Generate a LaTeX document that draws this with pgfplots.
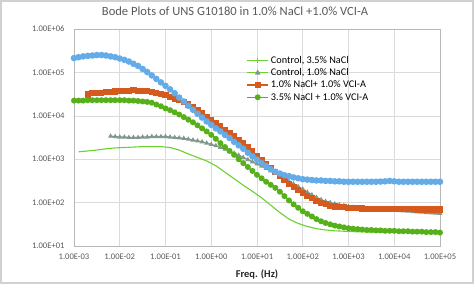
\documentclass[border=0pt]{standalone}
\usepackage{fontspec}
\setmainfont{Carlito}
\usepackage{pgfplots}
\pgfplotsset{compat=1.18}
\definecolor{cblue}{RGB}{100,172,232}
\definecolor{corange}{RGB}{214,90,30}
\definecolor{cgreen}{RGB}{86,176,26}
\definecolor{cctrl}{RGB}{105,210,45}
\definecolor{cgray}{RGB}{128,152,140}
\definecolor{ctxt}{RGB}{89,89,89}
\begin{document}
\begin{tikzpicture}[x=1bp,y=1bp]
\useasboundingbox (-74,-38) rectangle (400,246);
\draw[line width=1.5bp, black!18] (-73,-37) rectangle (399,245);
\begin{axis}[
  at={(0,0)}, anchor=south west, scale only axis,
  width=366bp, height=217bp,
  xmode=log, ymode=log,
  xmin=1e-3, xmax=1e5, ymin=10, ymax=1e6,
  xtick={1e-3,1e-2,1e-1,1,10,100,1000,1e4,1e5},
  xticklabels={1.00E-03,1.00E-02,1.00E-01,1.00E+00,1.00E+01,1.00E+02,1.00E+03,1.00E+04,1.00E+05},
  ytick={10,100,1000,1e4,1e5,1e6},
  yticklabels={1.00E+01,1.00E+02,1.00E+03,1.00E+04,1.00E+05,1.00E+06},
  xminorticks=false, yminorticks=false,
  major tick length=0pt,
  grid=major, major grid style={black!14, line width=0.6bp},
  axis line style={black!28, line width=0.7bp},
  tick label style={font=\fontsize{8.6}{9}\selectfont, text=ctxt},
  xticklabel style={yshift=-4.5bp},
  yticklabel style={xshift=-6bp},
  xlabel={\textbf{Freq. (Hz)}},
  xlabel style={at={(axis description cs:0.5,-0.13)}, anchor=center, font=\fontsize{10.5}{12}\selectfont, text=black!85},
  title={Bode Plots of UNS G10180 in 1.0\% NaCl +1.0\% VCI-A},
  title style={at={(axis description cs:0.44,1)}, anchor=center, yshift=12bp, font=\fontsize{12.6}{14}\selectfont, text=ctxt},
  legend style={at={(axis description cs:0.468,0.89)}, anchor=north west, draw=none, fill=none,
    font=\fontsize{10.3}{11}\selectfont, row sep=-0.3bp, inner sep=1bp},
  legend cell align=left,
]
% Control, 3.5% NaCl
\addplot[color=cctrl, line width=1.1bp, no markers,
  legend image code/.code={\draw[cctrl,line width=1.2bp] (0bp,0bp)--(21bp,0bp); \draw[cctrl,line width=0.8bp] (10.5bp,-2.5bp)--(10.5bp,2.5bp);}]
table {
1.259e-3 1479
1.995e-3 1549
3.162e-3 1622
5.012e-3 1738
7.943e-3 1820
1.259e-2 1862
1.995e-2 1905
3.162e-2 1950
5.012e-2 1950
7.943e-2 1950
1.259e-1 1862
1.995e-1 1622
3.162e-1 1318
5.012e-1 1096
7.943e-1 912
1.259 708
1.995 501
3.162 355
5.012 251
7.943 182
12.59 129
19.95 87.1
31.62 58.9
50.12 41.7
79.43 33.1
125.9 28.2
199.5 25.1
316.2 23.4
501.2 22.4
794.3 21.9
1259 21.4
1995 21.2
3162 21.0
5012 20.9
7943 20.8
12590 20.6
19950 20.5
31620 20.5
50120 20.4
1e5 20.4
};
\addlegendentry{Control, 3.5\% NaCl}
% Control, 1.0% NaCl
\addplot[color=cgray, line width=1.3bp, mark=triangle*, mark size=1.6bp,
  mark options={solid, fill=cgray, draw=cgray},
  legend image code/.code={\draw[cctrl,line width=1.2bp] (0bp,0bp)--(21bp,0bp); \fill[cgray] (8.7bp,-1.3bp)--(12.3bp,-1.3bp)--(10.5bp,1.9bp)--cycle;}]
table {
6.310e-3 3388
7.943e-3 3311
1.000e-2 3236
1.259e-2 3236
1.585e-2 3162
1.995e-2 3162
2.512e-2 3162
3.162e-2 3236
3.981e-2 3236
5.012e-2 3311
6.310e-2 3311
7.943e-2 3311
1.000e-1 3311
1.259e-1 3236
1.585e-1 3162
1.995e-1 3090
2.512e-1 3020
3.162e-1 2884
3.981e-1 2754
5.012e-1 2630
6.310e-1 2512
7.943e-1 2344
1 2188
1.259 2042
1.585 1862
1.995 1698
2.512 1549
3.162 1380
3.981 1230
5.012 1096
6.310 977
7.943 871
10 776
12.59 692
15.85 617
19.95 537
25.12 468
31.62 417
39.81 363
50.12 309
63.10 269
79.43 234
100 204
125.9 174
158.5 151
199.5 132
251.2 117
316.2 107
398.1 100
501.2 93.3
631.0 89.1
794.3 85.1
1000 81.3
1259 78.5
1585 75.9
1995 74.1
2512 72.4
3162 70.8
3981 69.2
5012 68.4
6310 67.6
7943 66.8
10000 66.1
12590 65.3
15850 64.6
19950 63.1
25120 61.7
31620 61.0
39810 60.3
50120 58.9
63100 57.5
79430 56.9
1e5 56.2
};
\addlegendentry{Control, 1.0\% NaCl}
% 1.0% NaCl + 1.0% VCI-A
\addplot[color=corange, line width=1.5bp, mark=square*, mark size=2.3bp,
  mark options={solid, fill=corange, draw=corange},
  legend image code/.code={\draw[corange,line width=1.5bp] (0bp,0bp)--(21bp,0bp); \fill[corange] (8.2bp,-2.3bp) rectangle (12.8bp,2.3bp);}]
table {
1.995e-3 30900
2.512e-3 33100
3.162e-3 33900
3.981e-3 33900
5.012e-3 34700
6.310e-3 35500
7.943e-3 36300
1.000e-2 37200
1.259e-2 38000
1.585e-2 38000
1.995e-2 38900
2.512e-2 38000
3.162e-2 38000
3.981e-2 37200
5.012e-2 35500
6.310e-2 33900
7.943e-2 31600
1.000e-1 29500
1.259e-1 27500
1.585e-1 25100
1.995e-1 22900
2.512e-1 20400
3.162e-1 18200
3.981e-1 16200
5.012e-1 13800
6.310e-1 11500
7.943e-1 9550
1 7940
1.259 6760
1.585 5750
1.995 4790
2.512 4070
3.162 3390
3.981 2820
5.012 2340
6.310 1910
7.943 1510
10 1200
12.59 977
15.85 794
19.95 631
25.12 501
31.62 407
39.81 331
50.12 269
63.10 229
79.43 195
100 170
125.9 145
158.5 126
199.5 110
251.2 100
316.2 91.2
398.1 85.1
501.2 81.3
631.0 79.4
794.3 77.6
1000 75.9
1259 75.0
1585 74.1
1995 73.2
2512 72.4
3162 71.6
3981 70.8
5012 70.8
6310 70.8
7943 70.8
10000 70.8
12590 70.8
15850 70.8
19950 70.0
25120 70.0
31620 69.2
39810 69.2
50120 69.2
63100 69.2
79430 69.2
1e5 69.2
};
\addlegendentry{1.0\% NaCl+ 1.0\% VCI-A}
% 3.5% NaCl + 1.0% VCI-A
\addplot[color=cgreen, line width=1.5bp, mark=*, mark size=2.2bp,
  mark options={solid, fill=cgreen, draw=cgreen},
  legend image code/.code={\draw[cgreen,line width=1.5bp] (0bp,0bp)--(21bp,0bp); \fill[cgreen] (10.5bp,0bp) circle (2.2bp);}]
table {
1.000e-3 22400
1.259e-3 22400
1.585e-3 22400
1.995e-3 22900
2.512e-3 22900
3.162e-3 22900
3.981e-3 22900
5.012e-3 22900
6.310e-3 22900
7.943e-3 22900
1.000e-2 22900
1.259e-2 22900
1.585e-2 22400
1.995e-2 22400
2.512e-2 21900
3.162e-2 21400
3.981e-2 20900
5.012e-2 20000
6.310e-2 18200
7.943e-2 16600
1.000e-1 14800
1.259e-1 13500
1.585e-1 12000
1.995e-1 10700
2.512e-1 9333
3.162e-1 8128
3.981e-1 7079
5.012e-1 6026
6.310e-1 5129
7.943e-1 4365
1 3631
1.259 2951
1.585 2344
1.995 1905
2.512 1549
3.162 1259
3.981 1000
5.012 813
6.310 661
7.943 537
10 437
12.59 363
15.85 302
19.95 257
25.12 219
31.62 178
39.81 141
50.12 112
63.10 91.2
79.43 75.9
100 63.1
125.9 55.0
158.5 47.9
199.5 41.7
251.2 37.2
316.2 33.9
398.1 31.6
501.2 29.5
631.0 28.2
794.3 26.9
1000 25.7
1259 25.1
1585 24.5
1995 24.0
2512 23.4
3162 23.4
3981 22.9
5012 22.9
6310 22.4
7943 22.4
10000 22.4
12590 21.9
15850 21.9
19950 21.9
25120 21.4
31620 21.4
39810 21.4
50120 20.9
63100 20.9
79430 20.9
1e5 20.4
};
\addlegendentry{3.5\%  NaCl  + 1.0\%  VCI-A}
% blue series (not in legend)
\addplot[color=cblue, line width=1.5bp, mark=*, mark size=2.5bp,
  mark options={solid, fill=cblue, draw=cblue}, forget plot]
table {
1.000e-3 214000
1.259e-3 224000
1.585e-3 234000
1.995e-3 240000
2.512e-3 245000
3.162e-3 251000
3.981e-3 251000
5.012e-3 245000
6.310e-3 234000
7.943e-3 224000
1.000e-2 209000
1.259e-2 195000
1.585e-2 178000
1.995e-2 158000
2.512e-2 141000
3.162e-2 120000
3.981e-2 102000
5.012e-2 85100
6.310e-2 70800
7.943e-2 58900
1.000e-1 49000
1.259e-1 40700
1.585e-1 33100
1.995e-1 26300
2.512e-1 21400
3.162e-1 17000
3.981e-1 13800
5.012e-1 11200
6.310e-1 9120
7.943e-1 7410
1 6170
1.259 5130
1.585 4370
1.995 3630
2.512 3090
3.162 2510
3.981 2090
5.012 1740
6.310 1410
7.943 1170
10 977
12.59 813
15.85 692
19.95 589
25.12 513
31.62 468
39.81 427
50.12 407
63.10 380
79.43 363
100 347
125.9 339
158.5 331
199.5 324
251.2 324
316.2 316
398.1 316
501.2 309
631.0 309
794.3 302
1000 302
1259 302
1585 302
1995 302
2512 302
3162 302
3981 302
5012 305
6310 309
7943 316
10000 309
12590 302
15850 302
19950 302
25120 302
31620 302
39810 302
50120 302
63100 302
79430 302
1e5 302
};
\end{axis}
\end{tikzpicture}
\end{document}
